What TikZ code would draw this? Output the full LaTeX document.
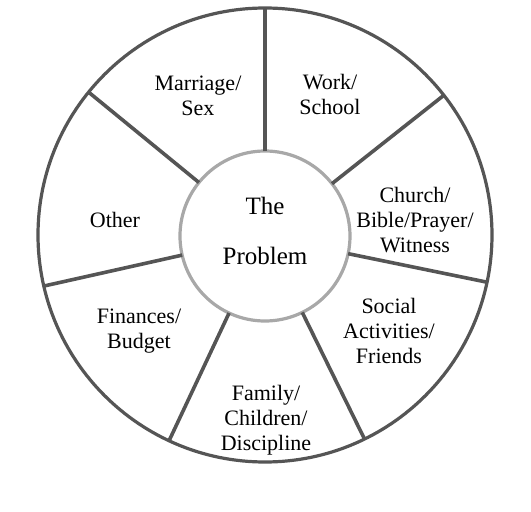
\documentclass[tikz,border=0pt]{standalone}
\usepackage{fontspec}
\setmainfont{Liberation Serif}
\definecolor{wheelgray}{HTML}{555555}
\definecolor{hubgray}{HTML}{A8A8A8}
\begin{document}
\begin{tikzpicture}[x=1pt, y=1pt, every node/.style={align=center, font=\fontsize{22}{25}\selectfont},
        ring/.style={circle, draw=wheelgray, line width=3.2pt, inner sep=0pt, outer sep=0pt}]
        \useasboundingbox (-265,-277) rectangle (266,235);
        \node[ring, minimum size=454pt] (wheel) at (0,0) {};
        \node[ring, draw=hubgray, fill=white, minimum size=170pt, text depth=10pt, font=\fontsize{25}{50}\selectfont] (problem) at (0,-1) {The\\Problem};
        \foreach \angle in {90,38.57,-12.86,-64.29,-115.71,-167.14,141.43} {
            \draw[wheelgray, line width=3.6pt] (problem.\angle) -- (wheel.\angle);
        }
        \node (marriage) at (-67,139.5) {Marriage/\\Sex};
        \node (work) at (65,140.5) {Work/\\School};
        \node (church) at (150,15) {Church/\\Bible/Prayer/\\Witness};
        \node (social) at (124,-96) {Social\\Activities/\\Friends};
        \node (family) at (1,-185) {Family/\\Children/\\Discipline};
        \node (finances) at (-126,-96.5) {Finances/\\Budget};
        \node (other) at (-150,15) {Other};
    \end{tikzpicture}
\end{document}
